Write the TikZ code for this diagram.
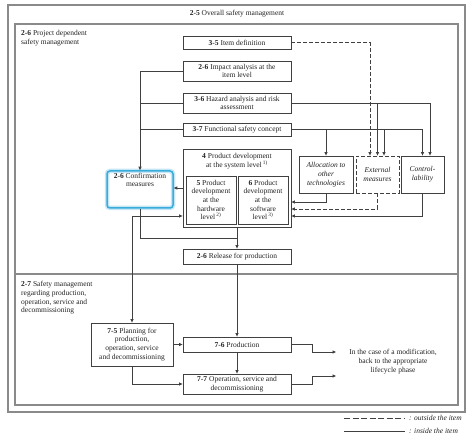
\documentclass[tikz,border=0pt]{standalone}
\usepackage{fontspec}
\setmainfont{Liberation Serif}
\usetikzlibrary{arrows.meta,calc}
\definecolor{frm}{HTML}{8A8A8A}
\definecolor{ln}{HTML}{404040}
\definecolor{txt}{HTML}{222222}
\definecolor{cblue}{HTML}{3AACDC}
\definecolor{glow}{HTML}{C4E6F5}
\newcommand{\dfont}{\fontsize{7.5}{8.7}\selectfont}
\begin{document}
\begin{tikzpicture}[x=1pt,y=-1pt,
  every node/.style={font=\dfont, text=txt, inner sep=0pt},
  box/.style={draw=ln, line width=0.8pt, minimum width=108pt, align=center},
  sbox/.style={draw=ln, line width=0.8pt, align=center},
  itbox/.style={sbox, font=\dfont\itshape},
  con/.style={draw=ln, line width=0.75pt},
  arr/.style={con, -{Triangle[length=3.5pt,width=3pt]}},
  arrboth/.style={con, {Triangle[length=3.5pt,width=3pt]}-{Triangle[length=3.5pt,width=3pt]}},
  dsh/.style={dash pattern=on 4pt off 2pt},
  frame/.style={draw=frm, line width=1.4pt},
]
\useasboundingbox (0,0) rectangle (474,438);

% frames
\draw[frame] (8,5) rectangle (465,412);
\draw[frame] (15,24) rectangle (458,405);
\draw[frame] (15,274) -- (458,274);

% frame titles
\node (t25) at (237,14) {\textbf{2-5} Overall safety management};
\node[align=left, anchor=west] (t26) at (21,38.5) {\textbf{2-6} Project dependent\\safety management};
\node[align=left, anchor=west] (t27) at (21,298) {\textbf{2-7} Safety management\\regarding production,\\operation, service and\\decommissioning};

% main column
\node[box, minimum height=13pt] (item) at (237,42.5) {\textbf{3-5} Item definition};
\node[box, minimum height=20pt] (impact) at (237,71) {\textbf{2-6} Impact analysis at the\\item level};
\node[box, minimum height=20pt] (hazard) at (237,103) {\textbf{3-6} Hazard analysis and risk\\assessment};
\node[box, minimum height=13pt] (func) at (237,129.5) {\textbf{3-7} Functional safety concept};
\node[box, minimum height=78pt] (sys) at (237,188) {};
\node[align=center] (syslbl) at (237,161.5) {\textbf{4} Product development\\at the system level\,\textsuperscript{1)}};
\node[sbox, minimum width=50pt, minimum height=48pt] (hw) at (211,200) {\textbf{5} Product\\development\\at the\\hardware\\level\,\textsuperscript{2)}};
\node[sbox, minimum width=50pt, minimum height=48pt] (sw) at (263,200) {\textbf{6} Product\\development\\at the\\software\\level\,\textsuperscript{3)}};
\node[box, minimum height=15pt] (release) at (237,256.5) {\textbf{2-6} Release for production};

% confirmation measures
\node[draw=cblue, line width=1.5pt, rounded corners=3pt, minimum width=66pt, minimum height=37pt,
      preaction={draw=glow, line width=4.5pt}] (conf) at (140,189.5) {};
\node[align=center, anchor=north] (conflbl) at ($(conf.north)+(0,2.5)$) {\textbf{2-6} Confirmation\\measures};

% right boxes
\node[itbox, minimum width=54pt, minimum height=37pt] (alloc) at (326,174.5) {Allocation to\\other\\technologies};
\node[itbox, dsh, minimum width=43pt, minimum height=37pt] (ext) at (377.5,174.5) {External\\measures};
\node[itbox, minimum width=43pt, minimum height=37pt] (ctrl) at (422.5,174.5) {Control-\\lability};

% lower part
\node[sbox, minimum width=82pt, minimum height=43pt] (plan) at (132,344.5) {\textbf{7-5} Planning for\\production,\\operation, service\\and decommissioning};
\node[box, minimum height=15pt] (prod) at (237,344.5) {\textbf{7-6} Production};
\node[box, minimum height=20pt] (oper) at (237,384) {\textbf{7-7} Operation, service and\\decommissioning};
\node[align=center] (mod) at (393,361.5) {In the case of a modification,\\back to the appropriate\\lifecycle phase};

% left connectors
\draw[arr] (impact.west) -| (conf.north);
\draw[con] (hazard.west) -- (hazard.west -| conf.north);
\draw[con] (func.west) -- (func.west -| conf.north);
\draw[arr] (sys.west) -- (sys.west -| conf.east);
\coordinate (j) at ($(sys.south)!0.5!(release.north)$);
\draw[con] (conf.south) |- (j);
\draw[arr] (sys.south) -- (release.north);
\coordinate (p4) at ($(sys.west)+(0,28)$);
\draw[arrboth] (plan.north) |- (p4);

% right connectors
\coordinate (e1) at ($(ext.north)+(-7.5,0)$);
\coordinate (e3) at ($(ext.north)+(6.5,0)$);
\coordinate (c2) at ($(ctrl.north)+(7.5,0)$);
\draw[arr,dsh] (item.east) -| (e1);
\draw[arr] (hazard.east) -| (c2);
\draw[arr] (hazard.east -| ext.north) -- (ext.north);
\draw[arr] (func.east) -| (ctrl.north);
\draw[arr] (func.east -| alloc.north) -- (alloc.north);
\draw[arr] (func.east -| e3) -- (e3);
\draw[arr] (alloc.south) |- ($(sys.east)+(0,14)$);
\draw[arr,dsh] (ext.south) |- ($(sys.east)+(0,21)$);
\draw[arr] (ctrl.south) |- ($(sys.east)+(0,28)$);

% lower connectors
\draw[arr] (release.south) -- (prod.north);
\draw[arr] (plan.east) -- (prod.west);
\draw[arr] (plan.south) |- (oper.west);
\draw[arr] (prod.south) -- (oper.north);
\coordinate (m1) at (336,352);
\coordinate (m2) at (336,376);
\draw[arr] (prod.east) -- ++(21,0) |- (m1);
\draw[arr] (oper.east) -- ++(21,0) |- (m2);

% legend
\coordinate (la) at (344,418);
\coordinate (lb) at (405,418);
\coordinate (lc) at (344,431);
\coordinate (ld) at (405,431);
\draw[con, dash pattern=on 6pt off 2.5pt] (la) -- (lb);
\draw[con] (lc) -- (ld);
\node[anchor=west, font=\dfont\itshape] (lo) at (409,418) {: outside the item};
\node[anchor=west, font=\dfont\itshape] (li) at (409,431) {: inside the item};
\end{tikzpicture}
\end{document}
